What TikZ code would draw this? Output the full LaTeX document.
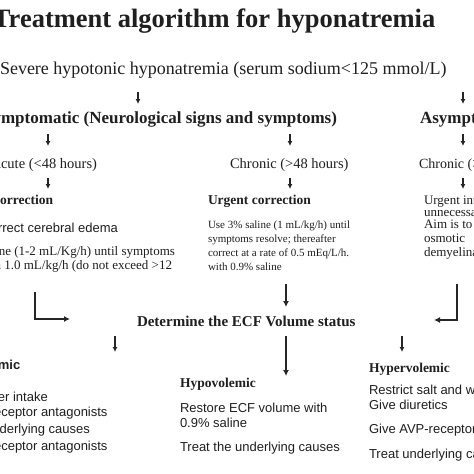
\documentclass[tikz,border=0pt]{standalone}
\usepackage{fontspec}
\setmainfont{Liberation Serif}
\newfontfamily\arialf{Liberation Sans}
\usetikzlibrary{arrows.meta}
\begin{document}
\begin{tikzpicture}[x=1pt,y=-1pt,
  every node/.style={inner sep=0pt,outer sep=0pt,text=black!88},
  ttl/.style={font=\fontsize{26.5}{30}\selectfont\bfseries},
  big/.style={font=\fontsize{18}{21}\selectfont},
  bigb/.style={font=\fontsize{17}{21}\selectfont\bfseries},
  mid/.style={font=\fontsize{14.5}{17}\selectfont},
  hd/.style={font=\fontsize{13.5}{16}\selectfont\bfseries},
  ser/.style={font=\fontsize{11}{14}\selectfont},
  serl/.style={font=\fontsize{13}{14}\selectfont},
  sans/.style={font=\arialf\fontsize{13}{15}\selectfont},
  sansb/.style={font=\arialf\fontsize{13}{15}\selectfont\bfseries},
  arr/.style={line width=1.4pt,black!85,-{Latex[length=5pt,width=5pt]}},
  larr/.style={line width=1.8pt,black!85,-{Latex[length=6pt,width=6pt]}}]
\useasboundingbox (0,0) rectangle (474,474);
\fill[white] (0,0) rectangle (474,474);
\clip (0,0) rectangle (474,474);

% title and top line
\node[ttl,anchor=base west] (t) at (-7,27) {Treatment algorithm for hyponatremia};
\node[big,anchor=base west] (sev) at (0,74) {Severe hypotonic hyponatremia (serum sodium<125 mmol/L)};

\coordinate (a1s) at (138,92); \coordinate (a1e) at (138,104);
\coordinate (a2s) at (463,92); \coordinate (a2e) at (463,104);
\draw[arr] (a1s) -- (a1e);
\draw[arr] (a2s) -- (a2e);

\node[bigb,anchor=base east] (sym) at (337,123) {Symptomatic (Neurological signs and symptoms)};
\node[bigb,anchor=base west] (asym) at (420,123) {Asymptomatic};

\coordinate (b1s) at (48,134); \coordinate (b1e) at (48,146);
\coordinate (b2s) at (290,134); \coordinate (b2e) at (290,146);
\coordinate (b3s) at (463,134); \coordinate (b3e) at (463,146);
\draw[arr] (b1s) -- (b1e);
\draw[arr] (b2s) -- (b2e);
\draw[arr] (b3s) -- (b3e);

\node[mid,anchor=base east] (acute) at (97,168) {Acute (<48 hours)};
\node[mid,anchor=base west] (chr1) at (230,168) {Chronic (>48 hours)};
\node[font=\fontsize{14}{17}\selectfont,anchor=base west] (chr2) at (419,168) {Chronic (>48 hours)};

\coordinate (c1s) at (48,178); \coordinate (c1e) at (48,189);
\coordinate (c2s) at (290,178); \coordinate (c2e) at (290,189);
\coordinate (c3s) at (463,178); \coordinate (c3e) at (463,189);
\draw[arr] (c1s) -- (c1e);
\draw[arr] (c2s) -- (c2e);
\draw[arr] (c3s) -- (c3e);

% left column
\node[hd,anchor=base east] (uc1) at (53,204) {Urgent correction};
\node[sans,anchor=base east] (ce) at (118,232) {Correct cerebral edema};
\node[serl,anchor=base east] (l1) at (175,255) {Use 3\% saline (1-2 mL/Kg/h) until symptoms};
\node[serl,anchor=base east] (l2) at (172,269) {resolve; then 1.0 mL/kg/h (do not exceed >12};

% middle column
\node[hd,anchor=base west] (uc2) at (208,204) {Urgent correction};
\node[ser,anchor=base west] (m1) at (208,228) {Use 3\% saline (1 mL/kg/h) until};
\node[ser,anchor=base west] (m2) at (208,242) {symptoms resolve; thereafter};
\node[ser,anchor=base west] (m3) at (208,256) {correct at a rate of 0.5 mEq/L/h.};
\node[ser,anchor=base west] (m4) at (208,270) {with 0.9\% saline};

% right column
\node[serl,anchor=base west] (r1) at (424,204) {Urgent intervention is};
\node[serl,anchor=base west] (r2) at (424,216) {unnecessary};
\node[serl,anchor=base west] (r3) at (424,228) {Aim is to avoid};
\node[serl,anchor=base west] (r4) at (424,242) {osmotic};
\node[serl,anchor=base west] (r5) at (424,256) {demyelination};

% connectors to ECF
\coordinate (d1s) at (35,292); \coordinate (d1m) at (35,319); \coordinate (d1e) at (70,319);
\draw[larr] (d1s) -- (d1m) -- (d1e);
\coordinate (d2s) at (286,284); \coordinate (d2e) at (286,307);
\draw[larr] (d2s) -- (d2e);
\coordinate (d3s) at (457,284); \coordinate (d3m) at (457,320); \coordinate (d3e) at (434,320);
\draw[larr] (d3s) -- (d3m) -- (d3e);

\node[font=\fontsize{15}{18}\selectfont\bfseries,anchor=base west] (det) at (137,326) {Determine the ECF Volume status};

\coordinate (e1s) at (115,336); \coordinate (e1e) at (115,352);
\coordinate (e2s) at (286,336); \coordinate (e2e) at (286,376);
\coordinate (e3s) at (402,336); \coordinate (e3e) at (402,352);
\draw[arr] (e1s) -- (e1e);
\draw[larr] (e2s) -- (e2e);
\draw[arr] (e3s) -- (e3e);

% bottom left
\node[sansb,anchor=base west] (nv) at (-70,369) {Normovolemic};
\node[sans,anchor=base west] (nv1) at (-70,401) {Restrict water intake};
\node[sans,anchor=base west] (nv2) at (-70,416) {Give AVP-receptor antagonists};
\node[sans,anchor=base west] (nv3) at (-70,433) {Treat the underlying causes};
\node[sans,anchor=base west] (nv4) at (-70,450) {Give AVP-receptor antagonists};

% bottom middle
\node[hd,anchor=base west] (hypo) at (180,387) {Hypovolemic};
\node[sans,anchor=base west] (hp1) at (180,412) {Restore ECF volume with};
\node[sans,anchor=base west] (hp2) at (180,427) {0.9\% saline};
\node[sans,anchor=base west] (hp3) at (180,451) {Treat the underlying causes};

% bottom right
\node[hd,anchor=base west] (hyper) at (369,372) {Hypervolemic};
\node[sans,anchor=base west] (hr1) at (369,394) {Restrict salt and water intake};
\node[sans,anchor=base west] (hr2) at (369,409) {Give diuretics};
\node[sans,anchor=base west] (hr3) at (369,433) {Give AVP-receptor antagonists};
\node[sans,anchor=base west] (hr4) at (369,458) {Treat underlying causes};
\end{tikzpicture}
\end{document}
